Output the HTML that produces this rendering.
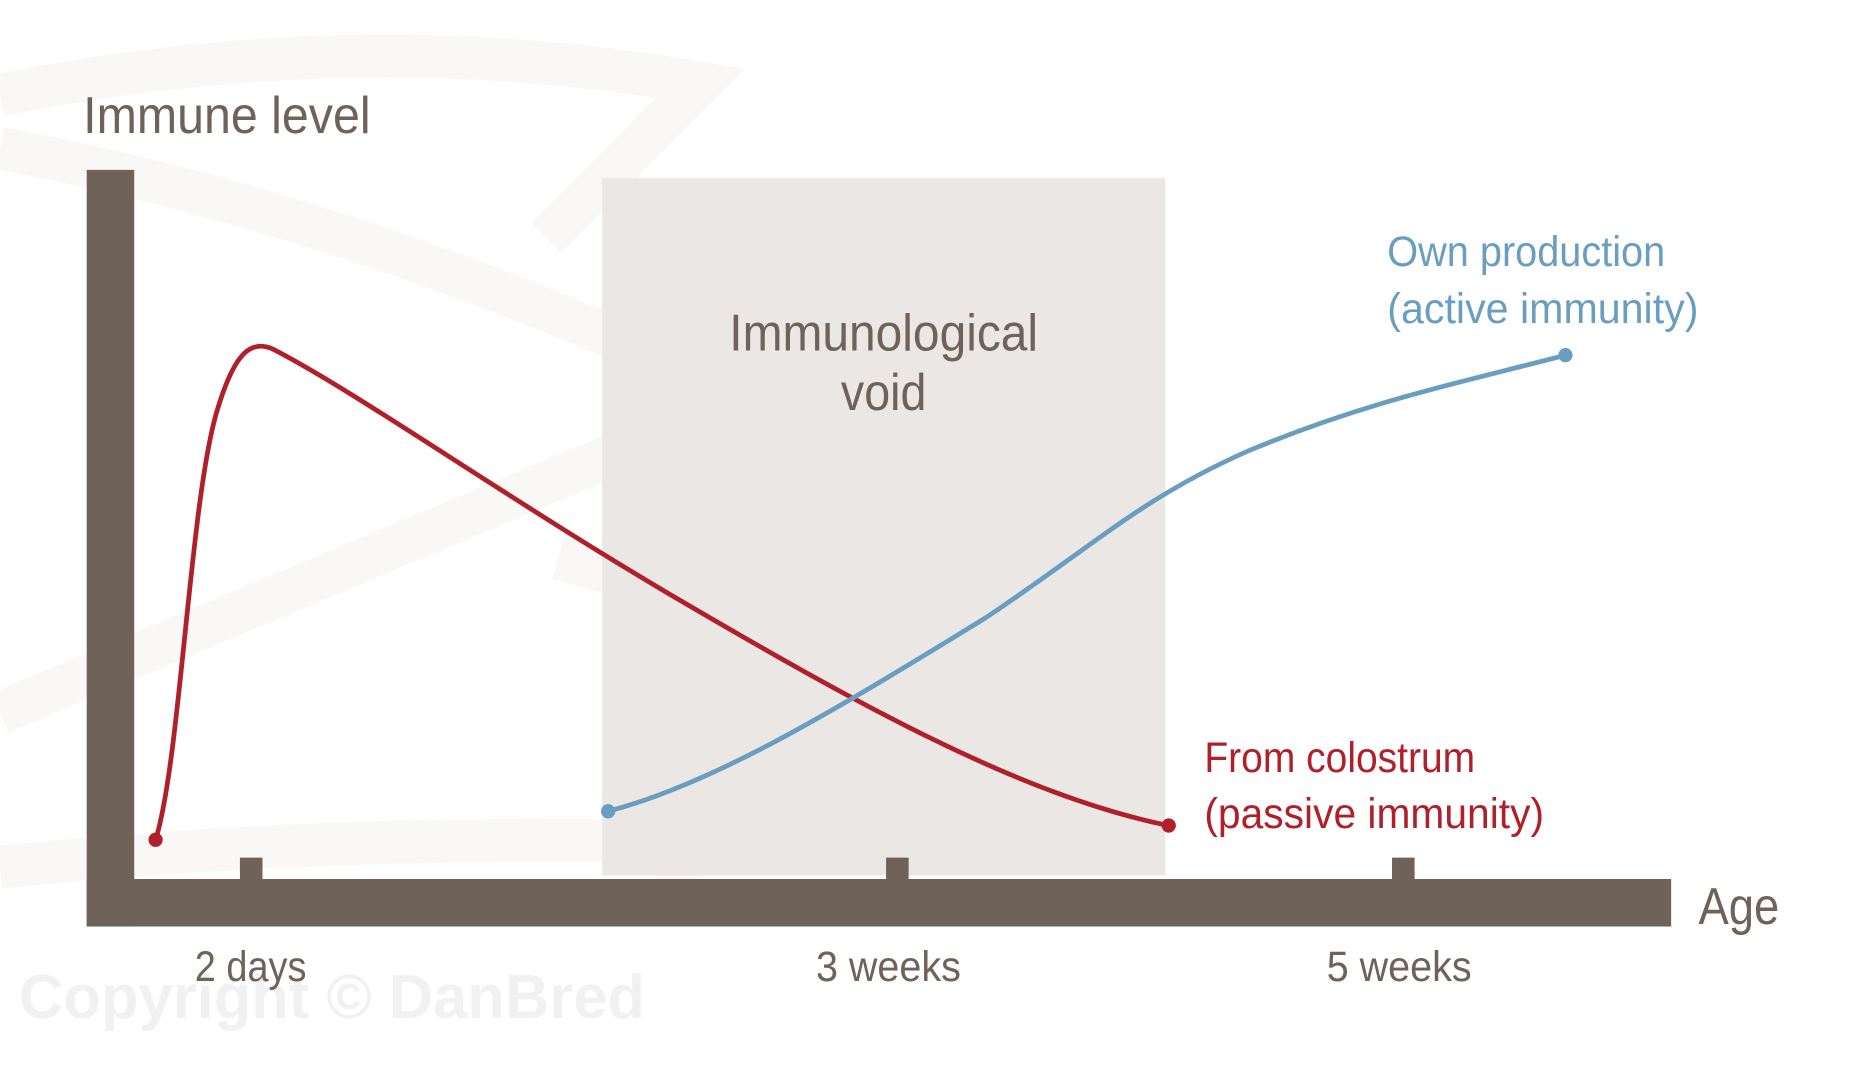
<!DOCTYPE html>
<html><head><style>html,body{margin:0;padding:0;background:#fff}svg{display:block}</style></head>
<body>
<svg width="1860" height="1075" viewBox="0 0 1566 905" preserveAspectRatio="none" xmlns="http://www.w3.org/2000/svg" font-family="'Liberation Sans Narrow','Liberation Sans',sans-serif">
<rect width="1566" height="905" fill="#fff"/>
<g fill="none" stroke="#f9f8f7" stroke-width="36">
<path d="M0,80 Q300,20 590,70 L460,200"/>
<path d="M0,125 Q300,180 630,335 L0,600"/>
<path d="M470,470 L680,530 L560,760"/>
<path d="M0,730 Q300,700 600,710"/>
</g>
<rect x="507" y="150" width="474" height="587" fill="#ebe7e4"/>
<g fill="#6f6259">
<rect x="73" y="143" width="40" height="637"/>
<rect x="73" y="740" width="1334" height="40"/>
<rect x="202" y="722" width="19" height="20"/>
<rect x="746" y="722" width="19" height="20"/>
<rect x="1172" y="722" width="19" height="20"/>
</g>
<text x="16" y="857" font-size="52" font-weight="bold" fill="#f1f1f1" font-family="'Liberation Sans',sans-serif" textLength="527" lengthAdjust="spacingAndGlyphs">Copyright © DanBred</text>
<path d="M131,707 C152,640 160,420 183,345 C198,295 212,286 230,294 C300,330 420,415 560,498 C720,592 860,670 984,695" fill="none" stroke="#b0202a" stroke-width="4"/>
<circle cx="131" cy="707" r="6" fill="#b0202a"/><circle cx="984" cy="695" r="6" fill="#b0202a"/>
<path d="M512,683 C600,660 700,600 830,520 C920,460 960,420 1050,380 C1150,338 1230,322 1318,299" fill="none" stroke="#6a9ec0" stroke-width="4"/>
<circle cx="512" cy="683" r="6" fill="#6a9ec0"/><circle cx="1318" cy="299" r="6" fill="#6a9ec0"/>
<g fill="#6f6259" font-size="44">
<text x="70" y="112" textLength="242" lengthAdjust="spacingAndGlyphs">Immune level</text>
<text x="614" y="295" textLength="260" lengthAdjust="spacingAndGlyphs">Immunological</text>
<text x="708" y="345" textLength="72" lengthAdjust="spacingAndGlyphs">void</text>
<text x="1430" y="778" textLength="68" lengthAdjust="spacingAndGlyphs">Age</text>
</g>
<g fill="#6f6259" font-size="36">
<text x="164" y="826" textLength="94" lengthAdjust="spacingAndGlyphs">2 days</text>
<text x="687" y="826" textLength="122" lengthAdjust="spacingAndGlyphs">3 weeks</text>
<text x="1117" y="826" textLength="122" lengthAdjust="spacingAndGlyphs">5 weeks</text>
</g>
<g fill="#6a9ec0" font-size="36">
<text x="1168" y="224" textLength="234" lengthAdjust="spacingAndGlyphs">Own production</text>
<text x="1168" y="272" textLength="262" lengthAdjust="spacingAndGlyphs">(active immunity)</text>
</g>
<g fill="#b0202a" font-size="36">
<text x="1014" y="650" textLength="228" lengthAdjust="spacingAndGlyphs">From colostrum</text>
<text x="1014" y="697" textLength="286" lengthAdjust="spacingAndGlyphs">(passive immunity)</text>
</g>
</svg>
</body></html>
